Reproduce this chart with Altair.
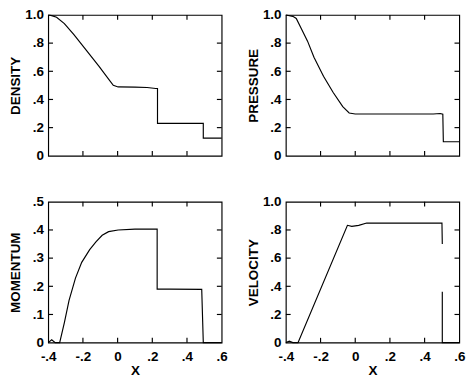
import altair as alt
import pandas as pd

# ---------------- data ----------------
X_LABELS = [-0.4, -0.2, 0.0, 0.2, 0.4, 0.6]
X_INNER = [-0.2, 0.0, 0.2, 0.4]

Y_LABELS_1 = [0.0, 0.2, 0.4, 0.6, 0.8, 1.0]
Y_INNER_1 = [0.2, 0.4, 0.6, 0.8]
Y_LABELS_M = [0.0, 0.1, 0.2, 0.3, 0.4, 0.5]
Y_INNER_M = [0.1, 0.2, 0.3, 0.4]

density_x = [-0.4, -0.38, -0.352, -0.307, -0.252, -0.18, -0.107, -0.052, -0.025, 0.003,
             0.10, 0.17, 0.22, 0.23, 0.23, 0.35, 0.494, 0.494, 0.6]
density_y = [1.0, 0.995, 0.984, 0.939, 0.86, 0.748, 0.635, 0.545, 0.50, 0.489,
             0.488, 0.485, 0.478, 0.478, 0.23, 0.23, 0.23, 0.125, 0.125]
density_seg = [0] * len(density_x)

pressure_x = [-0.4, -0.36, -0.34, -0.312, -0.275, -0.238, -0.183, -0.128, -0.072, -0.035,
              0.0, 0.45, 0.49, 0.505, 0.508, 0.6]
pressure_y = [1.0, 0.99, 0.975, 0.905, 0.814, 0.70, 0.565, 0.451, 0.349, 0.304,
              0.297, 0.297, 0.30, 0.295, 0.10, 0.10]
pressure_seg = [0] * len(pressure_x)

momentum_x = [-0.4, -0.38, -0.36, -0.334, -0.307, -0.28, -0.243, -0.207, -0.161, -0.125,
              -0.089, -0.052, 0.003, 0.10, 0.228, 0.228, 0.30, 0.485, 0.494, 0.6]
momentum_y = [0.0, 0.01, 0.0, 0.0, 0.071, 0.15, 0.229, 0.285, 0.33, 0.358,
              0.381, 0.394, 0.40, 0.403, 0.403, 0.19, 0.19, 0.189, 0.0, 0.0]
momentum_seg = [0] * len(momentum_x)

velocity_x = [-0.4, -0.38, -0.36, -0.33, -0.045, -0.02, 0.02, 0.066, 0.50, 0.502,
              0.502, 0.502, 0.6]
velocity_y = [0.0, 0.01, 0.0, 0.0, 0.833, 0.826, 0.833, 0.849, 0.849, 0.70,
              0.362, 0.0, 0.0]
velocity_seg = [0, 0, 0, 0, 0, 0, 0, 0, 0, 0, 1, 1, 1]

# ---------------- styling ----------------
W, H = 181, 147
TICK = 5
FONT = "Liberation Sans"

XFMT = ("datum.value == 0 ? '0' : (datum.value < 0 ? '-' : '') + "
        "replace(format(abs(datum.value), '.1f'), '0.', '.')")
YFMT = ("datum.value == 0 ? '0' : (datum.value >= 1 ? '1.0' : "
        "replace(format(datum.value, '.1f'), '0.', '.'))")


def panel(xs, ys, segs, title, ydom, ylabels, yinner, bottom):
    df = pd.DataFrame({"x": xs, "y": ys, "seg": segs, "i": list(range(len(xs)))})
    xsc = alt.Scale(domain=[-0.4, 0.6], nice=False, zero=False)
    ysc = alt.Scale(domain=ydom, nice=False, zero=False)
    if bottom:
        xaxis = alt.Axis(values=X_LABELS, labelExpr=XFMT, ticks=False, domain=False,
                         grid=False, labelPadding=8, titlePadding=0, labelFlush=False)
        xtitle = "X"
    else:
        xaxis = alt.Axis(values=X_LABELS, labels=False, ticks=False, domain=False,
                         grid=False, minExtent=0, maxExtent=0)
        xtitle = ""
    yaxis = alt.Axis(values=ylabels, labelExpr=YFMT, ticks=False, domain=False,
                     grid=False, minExtent=25, maxExtent=25, labelPadding=5,
                     titlePadding=2, labelFlush=False)

    def xe(f):
        return alt.X(f, scale=xsc, axis=xaxis, title=xtitle)

    def ye(f):
        return alt.Y(f, scale=ysc, axis=yaxis, title=title)

    line = alt.Chart(df).mark_line(color="black", strokeWidth=1.2).encode(
        x=xe("x:Q"), y=ye("y:Q"), detail="seg:N", order="i:Q")
    xt = pd.DataFrame({"x": X_INNER})
    yt = pd.DataFrame({"y": yinner})
    bt = alt.Chart(xt).mark_rule(color="black", strokeWidth=1.2).encode(
        x=xe("x:Q"), y=alt.value(H), y2=alt.value(H - TICK))
    tt = alt.Chart(xt).mark_rule(color="black", strokeWidth=1.2).encode(
        x=xe("x:Q"), y=alt.value(0), y2=alt.value(TICK))
    lt = alt.Chart(yt).mark_rule(color="black", strokeWidth=1.2).encode(
        y=ye("y:Q"), x=alt.value(0), x2=alt.value(TICK))
    rt = alt.Chart(yt).mark_rule(color="black", strokeWidth=1.2).encode(
        y=ye("y:Q"), x=alt.value(W), x2=alt.value(W - TICK))
    return alt.layer(line, bt, tt, lt, rt).properties(width=W, height=H)


p1 = panel(density_x, density_y, density_seg, "DENSITY", [0, 1], Y_LABELS_1, Y_INNER_1, False)
p2 = panel(pressure_x, pressure_y, pressure_seg, "PRESSURE", [0, 1], Y_LABELS_1, Y_INNER_1, False)
p3 = panel(momentum_x, momentum_y, momentum_seg, "MOMENTUM", [0, 0.5], Y_LABELS_M, Y_INNER_M, True)
p4 = panel(velocity_x, velocity_y, velocity_seg, "VELOCITY", [0, 1], Y_LABELS_1, Y_INNER_1, True)

chart = (
    alt.concat(p1, p2, p3, p4, columns=2, spacing={"row": 32, "column": 18})
    .properties(padding={"left": 0, "top": -9, "right": 0, "bottom": 0}, background="white")
    .configure_view(stroke="black", strokeWidth=1.2)
    .configure_axis(
        labelFont=FONT, titleFont=FONT, labelFontWeight="bold", titleFontWeight="bold",
        labelFontSize=14, titleFontSize=14, labelColor="black", titleColor="black",
    )
)

chart.save("out.html", embed_options={"renderer": "svg", "actions": False})
